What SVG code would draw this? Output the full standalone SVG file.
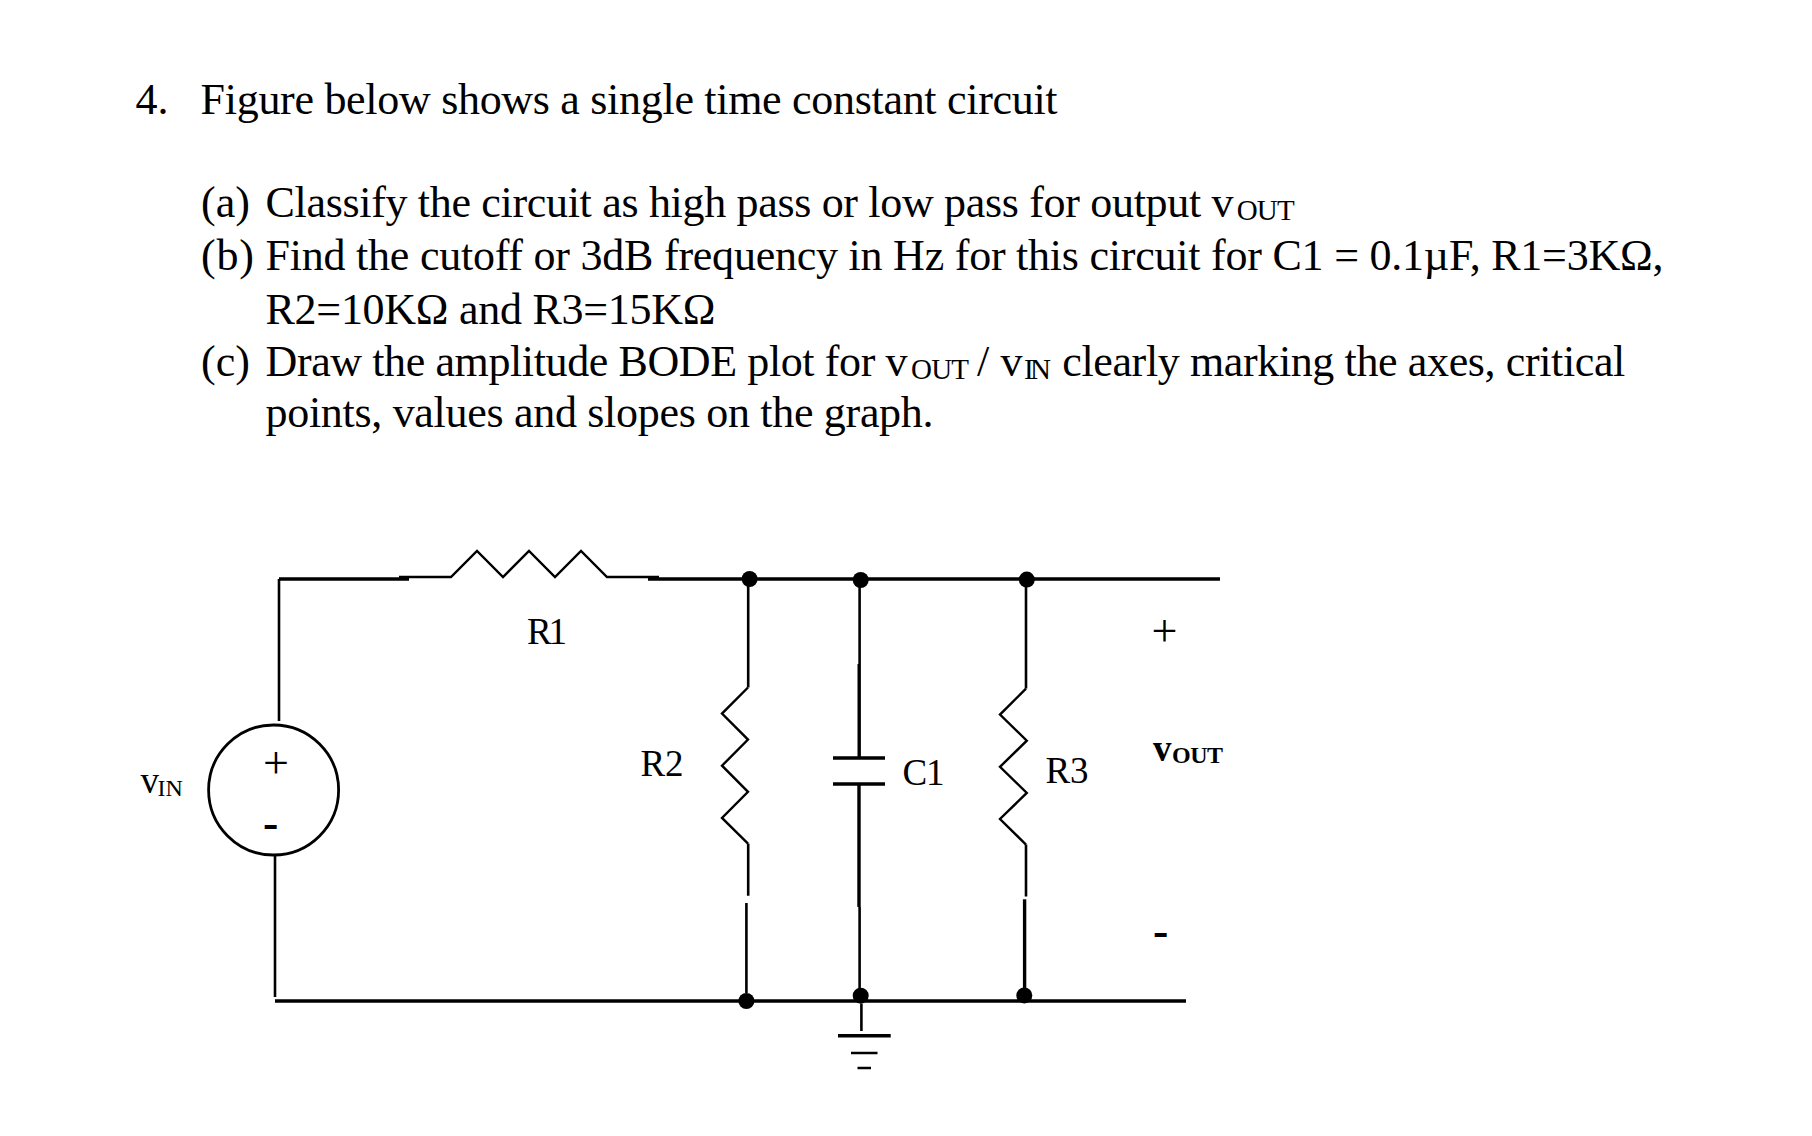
<svg xmlns="http://www.w3.org/2000/svg" width="1812" height="1136" viewBox="0 0 1812 1136">
<style>
text{font-family:"Liberation Serif","Times New Roman",serif;fill:#000}
.q{font-size:44px}
.s{font-size:29px}
.l{font-size:37px}
.p{font-size:46px}
.ls{font-size:24px}
.b{font-weight:bold}
.w{fill:none;stroke:#000;stroke-width:2.6}
.t{fill:none;stroke:#000;stroke-width:3.4}
.z{fill:none;stroke:#000;stroke-width:2.4;stroke-linejoin:miter}
.d{fill:#000}
</style>
<rect width="1812" height="1136" fill="#fff"/>
<g id="question">
<text class="q" x="135.6" y="114">4.</text>
<text class="q" x="200.6" y="114" textLength="857">Figure below shows a single time constant circuit</text>
<text class="q" x="201" y="216.5">(a)</text>
<text class="q" x="265.5" y="216.5" textLength="968">Classify the circuit as high pass or low pass for output v</text>
<text class="s" x="1236.7" y="220" textLength="58">OUT</text>
<text class="q" x="201" y="270" textLength="53">(b)</text>
<text class="q" x="265.5" y="270" textLength="1398">Find the cutoff or 3dB frequency in Hz for this circuit for C1 = 0.1µF, R1=3KΩ,</text>
<text class="q" x="265.5" y="324" textLength="450">R2=10KΩ and R3=15KΩ</text>
<text class="q" x="201" y="375.7">(c)</text>
<text class="q" x="265.5" y="375.7" textLength="642">Draw the amplitude BODE plot for v</text>
<text class="s" x="911" y="379" textLength="58">OUT</text>
<text class="q" x="977" y="375.7">/</text>
<text class="q" x="1000.5" y="375.7">v</text>
<text class="s" x="1024" y="379" textLength="27">IN</text>
<text class="q" x="1062.3" y="375.7" textLength="563">clearly marking the axes, critical</text>
<text class="q" x="265.5" y="426.7" textLength="668">points, values and slopes on the graph.</text>
</g>
<g id="connectors">
<path class="t" d="M409 579H279"/>
<path class="w" d="M279 579V721"/>
<path class="w" d="M275 856V997"/>
<path class="t" d="M648 579H1220"/>
<path class="t" d="M275 1001H1186"/>
<path class="w" d="M748.2 579V687.5M748.2 843.6V895.7M746.4 903V993"/>
<path class="w" d="M859.6 580V664"/>
<path class="t" d="M859.2 664V757M859 784V907"/>
<path class="w" d="M859.6 907V996"/>
<path class="w" d="M1026 580V688.6M1026 844.6V896.4"/>
<path class="t" d="M1024.6 899.3V992"/>
<path class="w" d="M861.4 1003.6V1031"/>
</g>
<g id="junctions">
<circle class="d" cx="749.6" cy="579" r="8"/>
<circle class="d" cx="860.7" cy="580" r="8"/>
<circle class="d" cx="1026.8" cy="579.6" r="8"/>
<circle class="d" cx="746.4" cy="1001" r="8"/>
<circle class="d" cx="860.7" cy="995.7" r="8"/>
<circle class="d" cx="1024.3" cy="995.4" r="8"/>
</g>
<g id="V_IN">
<circle cx="273.6" cy="790" r="65" fill="none" stroke="#000" stroke-width="2.8"/>
<text class="p" x="263" y="778">+</text>
<text class="p b" x="263" y="838">-</text>
<text class="l" x="140.5" y="793">v</text>
<text class="ls" x="157.5" y="796">IN</text>
</g>
<g id="R1">
<path class="z" d="M399 577H451L477 551L503 577L529 551L555 577L581 551L607 577H659"/>
<text class="l" x="527" y="644" textLength="40">R1</text>
</g>
<g id="R2">
<path class="z" d="M748 687.5L722 713.6L748 739.6L722 765.7L748 791.8L722 817.9L748 843.6"/>
<text class="l" x="640.4" y="776" textLength="43">R2</text>
</g>
<g id="C1">
<path class="t" d="M833 758H885M833 784H885"/>
<text class="l" x="902.6" y="785" textLength="42">C1</text>
</g>
<g id="R3">
<path class="z" d="M1026 688.6L1000 714.6L1026.8 740.7L1000 766.8L1026.8 792.9L1000 819L1026 844.6"/>
<text class="l" x="1045.5" y="783" textLength="43">R3</text>
</g>
<g id="ground">
<path class="t" d="M838 1035.7H890.7"/>
<path class="w" d="M851 1053H877.5M857.5 1068H871"/>
</g>
<g id="V_OUT">
<text class="p" x="1151.5" y="646">+</text>
<text class="l b" x="1153" y="760.7">v</text>
<text class="ls b" x="1172" y="763" textLength="51">OUT</text>
<text class="p b" x="1153" y="946">-</text>
</g>
</svg>
